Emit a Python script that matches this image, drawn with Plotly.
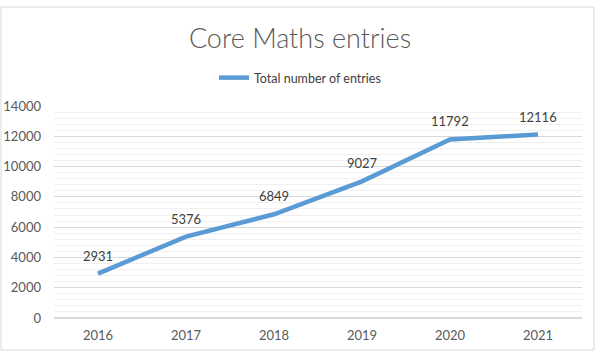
import plotly.graph_objects as go

years = ["2016", "2017", "2018", "2019", "2020", "2021"]
entries = [2931, 5376, 6849, 9027, 11792, 12116]
y_ticks = [0, 2000, 4000, 6000, 8000, 10000, 12000, 14000]

W, H = 600, 360
ml, mr, mt, mb = 54, 18, 106, 42
pw = W - ml - mr
ph = H - mt - mb

FONT = "Lato, Liberation Sans, sans-serif"

fig = go.Figure()
fig.add_trace(go.Scatter(
    x=list(range(len(years))), y=entries, mode="lines", name="Total number of entries",
    line=dict(color="#5b9bd5", width=4.5),
))

for i, v in enumerate(entries):
    fig.add_annotation(x=i, y=v, xref="x", yref="y", text=str(v), showarrow=False, yshift=18,
                       font=dict(family=FONT, size=13, color="#404040"))

# chart border
def px_x(p):
    return (p - ml) / pw
def px_y(p):
    return (H - mb - p) / ph

fig.add_shape(type="rect", xref="paper", yref="paper",
              x0=px_x(1), x1=px_x(594), y0=px_y(350), y1=px_y(7),
              line=dict(color="#d9d9d9", width=1), layer="below")

fig.update_layout(
    width=W, height=H,
    margin=dict(l=ml, r=mr, t=mt, b=mb, autoexpand=False),
    paper_bgcolor="white", plot_bgcolor="white",
    title=dict(text="Core Maths entries", x=0.5, xref="container", xanchor="center", y=1 - 39 / H, yanchor="middle",
               font=dict(family="Lato, sans-serif", size=27, color="#595959", weight=300)),
    showlegend=True,
    legend=dict(orientation="h", x=0.5, xref="container", xanchor="center", y=1 - 78 / H, yref="container", yanchor="middle",
                font=dict(family=FONT, size=12.5, color="#404040"),
                itemwidth=30),
    xaxis=dict(range=[-0.5, 5.5], tickvals=list(range(len(years))), ticktext=years,
               showgrid=False, showline=False, ticks="", zeroline=False,
               tickfont=dict(family=FONT, size=13, color="#595959"),
               ticklabelstandoff=8),
    yaxis=dict(range=[0, 14000], tickvals=y_ticks, ticktext=[str(t) for t in y_ticks],
               showgrid=True, gridcolor="#d9d9d9", gridwidth=1,
               minor=dict(dtick=400, showgrid=True, gridcolor="#f0f0f0", gridwidth=1),
               zeroline=True, zerolinecolor="#d9d9d9", zerolinewidth=1.5,
               showline=False, ticks="",
               tickfont=dict(family=FONT, size=13, color="#595959"),
               ticklabelstandoff=12),
)

fig.write_html("out.html", config={"displayModeBar": False},
               post_script="document.body.style.margin='0';document.body.style.overflow='hidden';")
